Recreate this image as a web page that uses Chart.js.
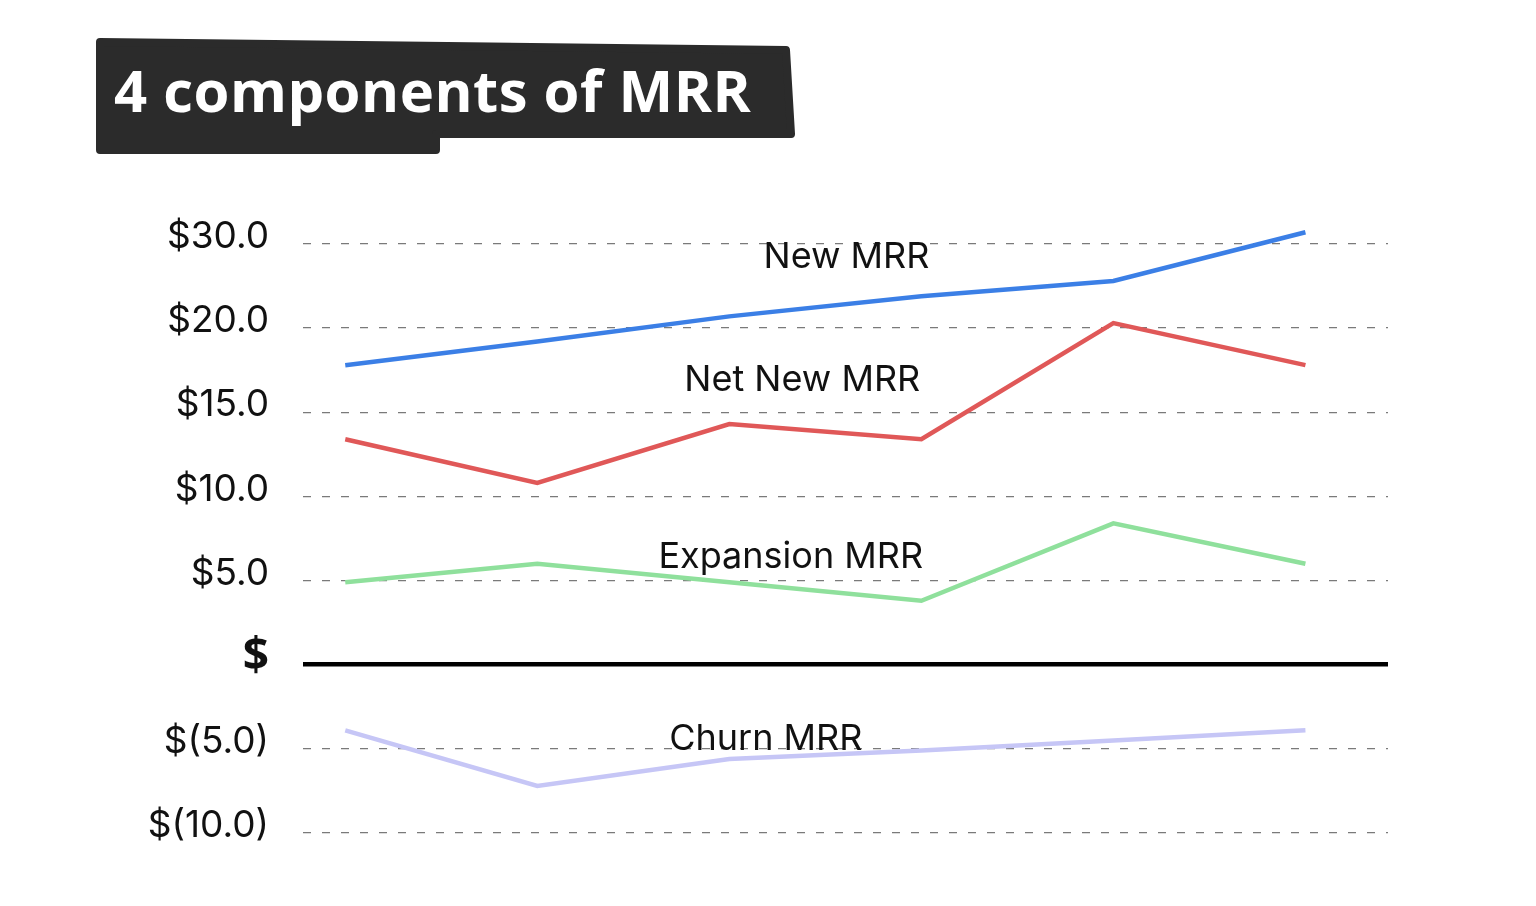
<!DOCTYPE html>
<html>
<head>
<meta charset="utf-8">
<title>4 components of MRR</title>
<script src="https://cdn.jsdelivr.net/npm/chart.js@4.4.1/dist/chart.umd.min.js"></script>
<style>
  html, body { margin: 0; padding: 0; background: #fff; }
  #wrap { position: relative; width: 1536px; height: 906px; overflow: hidden; }
  #mrrChart { position: absolute; left: 0; top: 0; }
  #titleBox { position: absolute; left: 0; top: 0; }
  #title {
    position: absolute; left: 114px; top: 50px;
    font-family: "Open Sans", sans-serif; font-weight: 700; font-size: 58px;
    color: #fff; white-space: nowrap; letter-spacing: 0.5px;
  }
</style>
</head>
<body>
<div id="wrap">
  <canvas id="mrrChart" width="1536" height="906"></canvas>
  <svg id="titleBox" width="820" height="170">
    <path d="M100 42 L786 50 L791 134 L436 134 L436 150 L100 150 Z"
          fill="#2b2b2b" stroke="#2b2b2b" stroke-width="8" stroke-linejoin="round"/>
  </svg>
  <div id="title">4 components of MRR</div>
</div>

<script>
// periods are not labelled in the picture, just 6 evenly spaced points
const periods = ["P1", "P2", "P3", "P4", "P5", "P6"];

// values in $
const newMrr       = [17.8, 19.2, 21.4, 23.8, 25.6, 31.4];
const netNewMrr    = [13.4, 10.8, 14.3, 13.4, 20.6, 17.8];
const expansionMrr = [4.9, 6.0, 4.9, 3.8, 8.4, 6.0];
const churnMrr     = [-3.9, -7.2, -5.6, -5.1, -4.5, -3.9];

// axis ticks: the step from $20 to $30 is drawn the same height as $5 steps
const yTickValues = [-10, -5, 0, 5, 10, 15, 20, 30];
const yTickLabels = ["$(10.0)", "$(5.0)", "$", "$5.0", "$10.0", "$15.0", "$20.0", "$30.0"];

// map a $ value to its place on the (broken) axis
function axisPos(v) {
  return v > 20 ? 20 + (v - 20) / 2 : v;
}

function toPoints(values) {
  return values.map((v, i) => ({ x: i, y: axisPos(v) }));
}

const seriesLabels = {
  id: "seriesLabels",
  afterDatasetsDraw(chart, args, opts) {
    const { ctx, scales: { x, y } } = chart;
    ctx.save();
    ctx.font = opts.font;
    ctx.fillStyle = "#111";
    ctx.textAlign = "center";
    ctx.textBaseline = "middle";
    opts.items.forEach(it => {
      ctx.fillText(it.text, x.getPixelForValue(it.x), y.getPixelForValue(it.y));
    });
    ctx.restore();
  }
};

const lineStyle = { borderWidth: 4.5, pointRadius: 0, tension: 0, fill: false, clip: false };

new Chart(document.getElementById("mrrChart"), {
  type: "line",
  data: {
    datasets: [
      { label: "New MRR", data: toPoints(newMrr), borderColor: "#3b7fe6", ...lineStyle },
      { label: "Net New MRR", data: toPoints(netNewMrr), borderColor: "#e05858", ...lineStyle },
      { label: "Expansion MRR", data: toPoints(expansionMrr), borderColor: "#8fe09c", ...lineStyle },
      { label: "Churn MRR", data: toPoints(churnMrr), borderColor: "#c6c6f6", ...lineStyle }
    ]
  },
  options: {
    responsive: false,
    animation: false,
    layout: { padding: { left: 0, right: 148, top: 244, bottom: 73 } },
    plugins: {
      legend: { display: false },
      tooltip: { enabled: false },
      seriesLabels: {
        font: '36px "Inter", "Noto Sans", sans-serif',
        items: [
          { text: "New MRR", x: 2.61, y: 24.2 },
          { text: "Net New MRR", x: 2.38, y: 16.9 },
          { text: "Expansion MRR", x: 2.32, y: 6.4 },
          { text: "Churn MRR", x: 2.19, y: -4.4 }
        ]
      }
    },
    scales: {
      x: {
        type: "linear",
        display: false,
        min: -0.22,
        max: 5.43
      },
      y: {
        min: -10,
        max: 25,
        afterFit: (scale) => { scale.width = 303; },
        afterBuildTicks: (scale) => {
          scale.ticks = yTickValues.map(v => ({ value: axisPos(v) }));
        },
        ticks: {
          padding: 34,
          labelOffset: -7,
          color: "#111",
          font: (ctx) => ctx.tick && ctx.tick.value === 0
            ? { family: '"Open Sans", sans-serif', size: 46, weight: "bold" }
            : { family: '"Inter", "Noto Sans", sans-serif', size: 37 },
          callback: (value) => {
            const i = yTickValues.findIndex(v => axisPos(v) === value);
            return i >= 0 ? yTickLabels[i] : "";
          }
        },
        grid: {
          drawTicks: false,
          color: (ctx) => ctx.tick && ctx.tick.value === 0 ? "#000" : "#7a7a7a",
          lineWidth: (ctx) => ctx.tick && ctx.tick.value === 0 ? 4.5 : 1.3
        },
        border: {
          display: false,
          dash: (ctx) => ctx.tick && ctx.tick.value === 0 ? [] : [8, 11]
        }
      }
    }
  },
  plugins: [seriesLabels]
});
</script>
</body>
</html>
